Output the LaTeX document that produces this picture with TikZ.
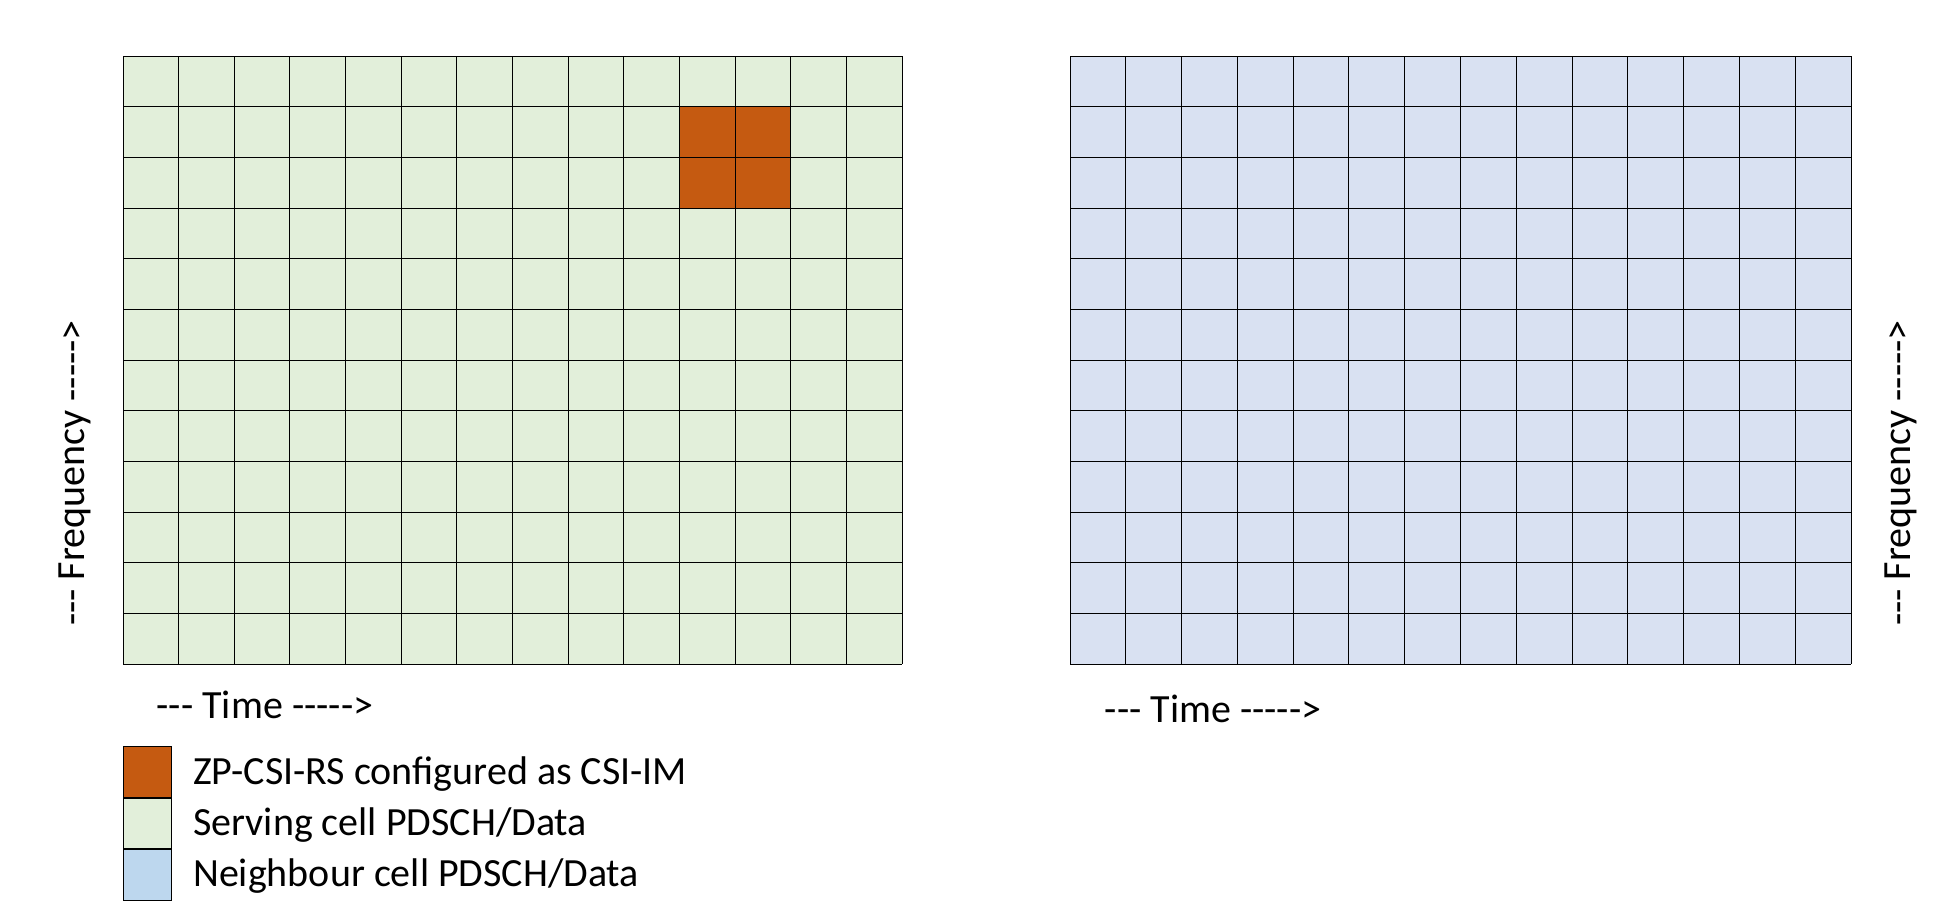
\documentclass[tikz,border=0pt]{standalone}
\usepackage{fontspec}
\setmainfont{Carlito}[Ligatures=TeXOff]
\usepackage{tikz}
\usetikzlibrary{positioning}

\definecolor{servgreen}{HTML}{E2EFDA}
\definecolor{neighblue}{HTML}{D9E1F2}
\definecolor{legblue}{HTML}{BDD7EE}
\definecolor{csiorange}{HTML}{C55A11}

\begin{document}
\begin{tikzpicture}[x=1pt,y=-1pt,
  gridline/.style={draw=black, line width=1pt},
  legbox/.style={rectangle, draw=black, line width=1pt, minimum width=48pt, minimum height=50.5pt, inner sep=0pt},
  lbl/.style={font=\fontsize{40}{48}\selectfont, inner sep=0pt},]
\useasboundingbox (0,0) rectangle (1960,919);

%Grids
\fill[servgreen] (123,56) rectangle (902,664);
\fill[csiorange] (123+10*55.643,56+50.667) rectangle (123+12*55.643,56+3*50.667);
\foreach \i in {0,...,14} \draw[gridline] (123+\i*55.643,56) -- (123+\i*55.643,664);
\foreach \j in {0,...,12} \draw[gridline] (123,56+\j*50.667) -- (902,56+\j*50.667);

\fill[neighblue] (1070,56) rectangle (1851,664);
\foreach \i in {0,...,14} \draw[gridline] (1070+\i*55.786,56) -- (1070+\i*55.786,664);
\foreach \j in {0,...,12} \draw[gridline] (1070,56+\j*50.667) -- (1851,56+\j*50.667);

%Axis labels
\node[lbl, anchor=base] (time1) at (265,718) {--- Time ----->};
\node[lbl, anchor=base] (time2) at (1213,722) {--- Time ----->};
\node[lbl, anchor=base, rotate=90] (freq1) at (84,473) {--- Frequency ----->};
\node[lbl, anchor=base, rotate=90] (freq2) at (1910,473) {--- Frequency ----->};

%Legend
\node[legbox, fill=csiorange, anchor=north west] (zp) at (123,746) {};
\node[legbox, fill=servgreen, below=0pt of zp] (serv) {};
\node[legbox, fill=legblue, below=0pt of serv] (neigh) {};
\node[lbl, anchor=west, right=21pt of zp, yshift=-2pt] (zptext) {ZP-CSI-RS configured as CSI-IM};
\node[lbl, anchor=west, right=21pt of serv, yshift=-2pt] (servtext) {Serving cell PDSCH/Data};
\node[lbl, anchor=west, right=21pt of neigh, yshift=-1pt] (neightext) {Neighbour cell PDSCH/Data};

\end{tikzpicture}
\end{document}
